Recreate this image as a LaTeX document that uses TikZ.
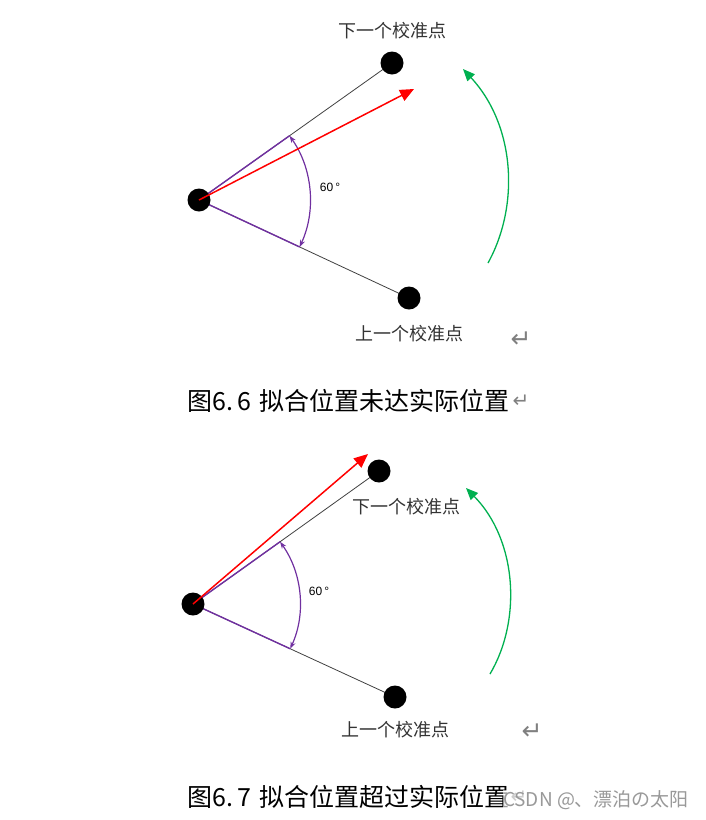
\documentclass[tikz,border=0pt]{standalone}
\usepackage{fontspec}
\setmainfont{Noto Sans CJK SC}
\newfontfamily\cjk{Noto Sans CJK SC}
\newfontfamily\dejavu{DejaVu Sans}
\newfontfamily\arialf{Liberation Sans}
\usetikzlibrary{arrows.meta,calc}
\definecolor{vio}{HTML}{7030A0}
\definecolor{grn}{HTML}{00B050}
\begin{document}
\begin{tikzpicture}[x=1pt,y=-1pt,
 dot/.style={circle,fill=black,minimum size=23pt,inner sep=0pt},
 ray/.style={draw=black!75,line width=0.8pt},
 redarrow/.style={red,line width=1.5pt,-{Triangle[length=14pt,width=12pt]}},
 angarc/.style={vio,line width=1.2pt,{Stealth[length=7pt,width=5pt]}-{Stealth[length=7pt,width=5pt]}},
 angseg/.style={vio,line width=1.4pt},
 turn/.style={grn,line width=1.3pt,-{Triangle[length=12pt,width=10pt]}},
 lbl/.style={font=\cjk\fontsize{18}{20}\selectfont,text=black!80,inner sep=0pt},
 anglbl/.style={font=\arialf\fontsize{12}{14}\selectfont,inner sep=0pt},
 captext/.style={font=\cjk\fontsize{25}{29}\selectfont,anchor=west,inner sep=0pt},
 ret/.style={font=\dejavu\fontsize{25}{27}\selectfont,text=black!50,inner sep=0pt},
 retsmall/.style={font=\dejavu\fontsize{20}{22}\selectfont,text=black!50,inner sep=0pt},
 wm/.style={font=\cjk\fontsize{19}{21}\selectfont,text=black!40,fill=white,fill opacity=0.6,text opacity=1,inner sep=0pt}
]
\useasboundingbox (0,0) rectangle (705,820);
% ---------------- Figure 6.6 ----------------
\coordinate (c1) at (199,200);
\coordinate (u1) at (392,63);
\coordinate (l1) at (409,298);
\coordinate (t1) at (414,89);
\draw[ray] (c1) -- (u1);
\draw[ray] (c1) -- (l1);
\coordinate (a1) at ($(c1)!111pt!(u1)$);
\coordinate (b1) at ($(c1)!111pt!(l1)$);
\draw[angseg] (c1) -- (a1);
\draw[angseg] (c1) -- (b1);
\draw[angarc] (b1) arc[start angle=25.02, end angle=-35.37, radius=111];
\node[dot] (C1) at (c1) {};
\node[dot] (U1) at (u1) {};
\node[dot] (L1) at (l1) {};
\draw[redarrow] (c1) -- (t1);
\node[anglbl] (ang1) at (330,187) {60\,°};
\coordinate (g1s) at (488,263);
\coordinate (g1e) at (463,69);
\draw[turn] (g1s) .. controls (520,205) and (515,125) .. (g1e);
\node[lbl] (n1) at (392,31) {下一个校准点};
\node[lbl] (p1) at (409,334) {上一个校准点};
\node[ret] (r1) at (521,340) {↵};
\node[captext] (cap1) at (187,401) {图6.\hspace{4pt}6\hspace{9pt}拟合位置未达实际位置};
\node[retsmall] (rc1) at (521,401) {↵};
% ---------------- Figure 6.7 ----------------
\coordinate (c2) at (193,604);
\coordinate (u2) at (379,471);
\coordinate (l2) at (395,697);
\coordinate (t2) at (368,454);
\draw[ray] (c2) -- (u2);
\draw[ray] (c2) -- (l2);
\coordinate (a2) at ($(c2)!107pt!(u2)$);
\coordinate (b2) at ($(c2)!107pt!(l2)$);
\draw[angseg] (c2) -- (a2);
\draw[angseg] (c2) -- (b2);
\draw[angarc] (b2) arc[start angle=24.72, end angle=-35.57, radius=107];
\node[dot] (C2) at (c2) {};
\node[dot] (U2) at (u2) {};
\node[dot] (L2) at (l2) {};
\draw[redarrow] (c2) -- (t2);
\node[anglbl] (ang2) at (319,591) {60\,°};
\coordinate (g2s) at (490,674);
\coordinate (g2e) at (466,488);
\draw[turn] (g2s) .. controls (522,620) and (517,540) .. (g2e);
\node[lbl] (n2) at (406,507) {下一个校准点};
\node[lbl] (p2) at (395,730) {上一个校准点};
\node[ret] (r2) at (532,732) {↵};
\node[captext] (cap2) at (187,797) {图6.\hspace{4pt}7\hspace{9pt}拟合位置超过实际位置};
\node[retsmall] (rc2) at (519,797) {↵};
\node[wm] (wm) at (596,800) {CSDN @、漂泊の太阳};
\end{tikzpicture}
\end{document}
